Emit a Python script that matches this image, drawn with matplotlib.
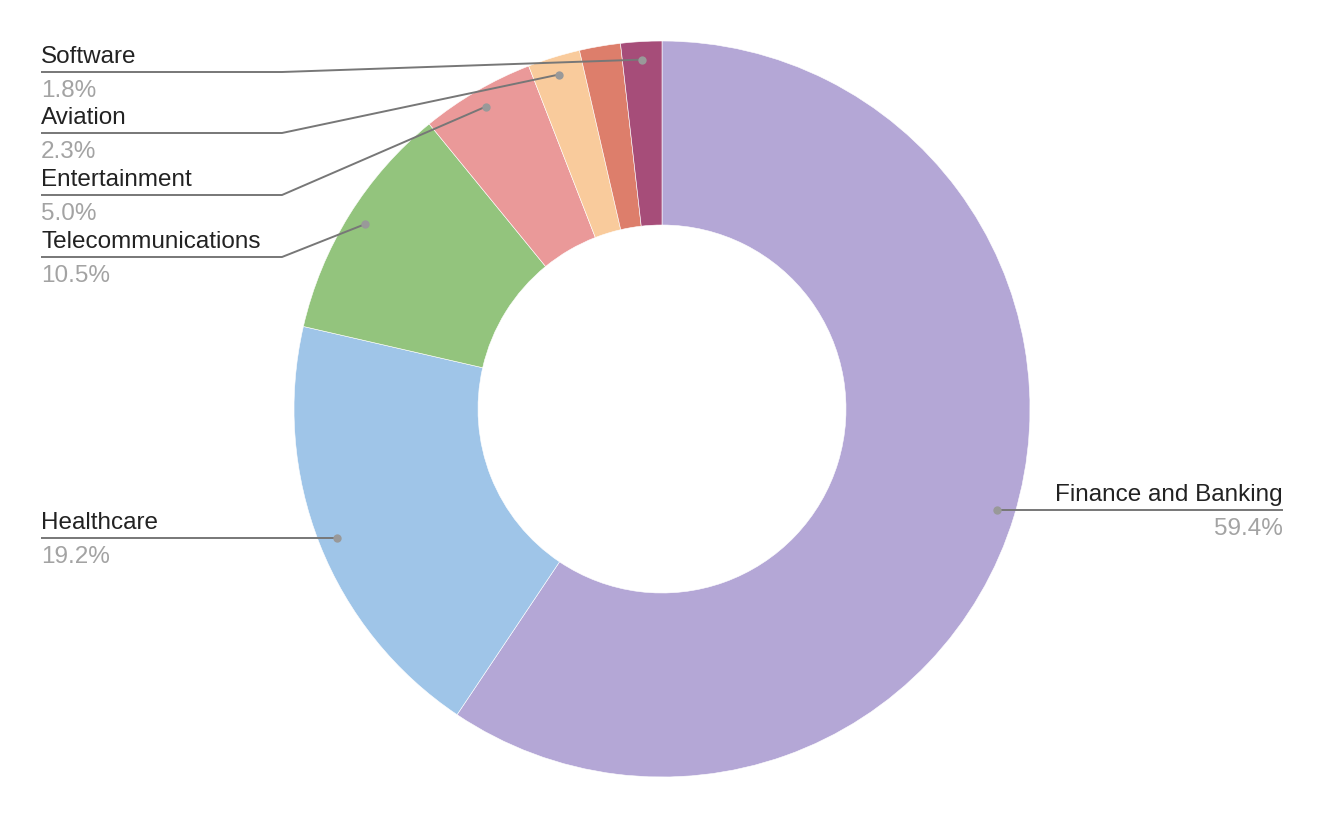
import matplotlib
matplotlib.use("Agg")
import matplotlib.pyplot as plt
import numpy as np

# ---- data ----
categories = ["Finance and Banking", "Healthcare", "Telecommunications",
              "Entertainment", "Aviation", "Other", "Software"]
values = [59.4, 19.2, 10.5, 5.0, 2.3, 1.8, 1.8]
colors = ["#b4a7d6", "#9fc5e8", "#93c47d", "#ea9999", "#f9cb9c", "#dd7e6b", "#a64d79"]
labelled = [True, True, True, True, True, False, True]

# ---- layout (pixels, top-left origin) ----
W, H = 1324, 818
CX, CY = 662, 409
R = 368
RING = 184
label_side = {"Finance and Banking": "right", "Healthcare": "left",
              "Telecommunications": "left", "Entertainment": "left",
              "Aviation": "left", "Software": "left"}
label_line_y = {"Finance and Banking": 510, "Healthcare": 538,
                "Telecommunications": 257, "Entertainment": 195,
                "Aviation": 133, "Software": 72}
LEFT_X, ELBOW_X, RIGHT_X = 41, 282, 1283

plt.rcParams['font.family'] = ['Liberation Sans', 'DejaVu Sans']

fig = plt.figure(figsize=(W / 100, H / 100), dpi=100)
ax = fig.add_axes([0, 0, 1, 1])

wedges, _ = ax.pie(values, colors=colors, startangle=90, counterclock=False,
                   radius=R, center=(CX, H - CY),
                   wedgeprops=dict(width=RING, edgecolor="white", linewidth=0.4))
ax.set_xlim(0, W)
ax.set_ylim(0, H)
ax.set_aspect('equal')
ax.axis('off')

line_col = "#777777"
for w, name, show, v in zip(wedges, categories, labelled, values):
    if not show:
        continue
    mid = np.deg2rad((w.theta1 + w.theta2) / 2)
    dx = CX + 0.951 * R * np.cos(mid)
    dy = (H - CY) + 0.951 * R * np.sin(mid)
    ly = H - label_line_y[name]
    bent = label_side[name] == "left" and abs(dy - ly) > 3
    if label_side[name] == "left":
        xs = [dx, ELBOW_X, LEFT_X] if bent else [dx, LEFT_X]
        ys = [dy, ly, ly] if bent else [ly, ly]
        tx, ha = LEFT_X, "left"
    else:
        xs = [dx, RIGHT_X]
        ys = [ly, ly]
        tx, ha = RIGHT_X, "right"
    ax.plot(xs, ys, color=line_col, lw=1.4, solid_capstyle="butt", zorder=3)
    ax.plot([dx], [dy if bent else ly],
            marker="o", ms=6, color="#999999", mec="none", zorder=4)
    ax.text(tx, ly + 9, name, ha=ha, va="baseline", fontsize=17.5, color="#222222")
    ax.text(tx, ly - 25, f"{v:.1f}%", ha=ha, va="baseline", fontsize=17.5, color="#a3a3a3")

fig.savefig("out.png", dpi=100)
